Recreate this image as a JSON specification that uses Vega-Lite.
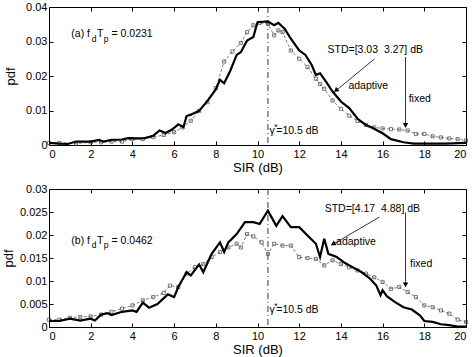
{
  "$schema": "https://vega.github.io/schema/vega-lite/v6.json",
  "background": "white",
  "padding": {"left": 1, "top": 0, "right": 8, "bottom": 0},
  "config": {
    "font": "Liberation Sans",
    "view": {"stroke": "black", "strokeWidth": 1},
    "axis": {"grid": false, "domain": false, "tickColor": "black", "tickSize": -4, "labelFont": "Liberation Sans", "labelFontSize": 11, "labelColor": "black", "titleFont": "Liberation Sans", "titleFontSize": 13, "titleFontWeight": "normal", "titleColor": "black", "labelPadding": 3, "format": "~g"},
    "text": {"font": "Liberation Sans", "fontSize": 10.5, "color": "black"}
  },
  "datasets": {
    "a_adaptive": [
      {"x":0,"y":0.0006},{"x":0.5,"y":0.0004},{"x":0.9,"y":0.0003},{"x":1.3,"y":0.001},{"x":2,"y":0.001},{"x":2.4,"y":0.0015},{"x":2.6,"y":0.001},{"x":3,"y":0.0015},{"x":3.5,"y":0.0016},{"x":3.8,"y":0.002},{"x":4.2,"y":0.0019},{"x":4.6,"y":0.002},{"x":5,"y":0.0027},{"x":5.3,"y":0.0042},{"x":5.6,"y":0.0035},{"x":5.9,"y":0.0045},{"x":6.2,"y":0.006},{"x":6.45,"y":0.0052},{"x":6.6,"y":0.0084},{"x":6.8,"y":0.0088},{"x":7.2,"y":0.0099},{"x":7.6,"y":0.0128},{"x":8,"y":0.0161},{"x":8.2,"y":0.0189},{"x":8.4,"y":0.0179},{"x":8.7,"y":0.0216},{"x":9,"y":0.0261},{"x":9.2,"y":0.0269},{"x":9.5,"y":0.0303},{"x":9.8,"y":0.0313},{"x":10,"y":0.0356},{"x":10.5,"y":0.0358},{"x":10.8,"y":0.0347},{"x":11,"y":0.0354},{"x":11.3,"y":0.0337},{"x":11.6,"y":0.0308},{"x":12,"y":0.0274},{"x":12.3,"y":0.0261},{"x":12.6,"y":0.0232},{"x":12.8,"y":0.0203},{"x":13,"y":0.0208},{"x":13.3,"y":0.0182},{"x":13.6,"y":0.0155},{"x":14,"y":0.0126},{"x":14.4,"y":0.0107},{"x":14.8,"y":0.0076},{"x":15.2,"y":0.0058},{"x":15.5,"y":0.005},{"x":16,"y":0.0034},{"x":16.4,"y":0.0017},{"x":17,"y":0.0008},{"x":17.5,"y":0.0004},{"x":18,"y":0.0004},{"x":19,"y":0.0004},{"x":20,"y":0.0006}
    ],
    "a_fixed": [
      {"x":0,"y":0.0006},{"x":0.5,"y":0.0006},{"x":1.3,"y":0.0004},{"x":2,"y":0.0008},{"x":2.5,"y":0.0008},{"x":3,"y":0.001},{"x":3.5,"y":0.001},{"x":4,"y":0.0017},{"x":4.5,"y":0.0017},{"x":5,"y":0.0023},{"x":5.5,"y":0.0029},{"x":6,"y":0.0037},{"x":6.4,"y":0.0051},{"x":6.8,"y":0.007},{"x":7.2,"y":0.0099},{"x":7.6,"y":0.0124},{"x":8,"y":0.0165},{"x":8.4,"y":0.0242},{"x":8.8,"y":0.0271},{"x":9.2,"y":0.0296},{"x":9.5,"y":0.0327},{"x":9.8,"y":0.0347},{"x":10.1,"y":0.0354},{"x":10.5,"y":0.0351},{"x":10.8,"y":0.0318},{"x":11,"y":0.0332},{"x":11.2,"y":0.0327},{"x":11.6,"y":0.0274},{"x":12,"y":0.025},{"x":12.4,"y":0.0226},{"x":12.8,"y":0.0192},{"x":13,"y":0.0177},{"x":13.2,"y":0.0163},{"x":13.6,"y":0.0129},{"x":14,"y":0.0105},{"x":14.4,"y":0.0085},{"x":14.8,"y":0.007},{"x":15.2,"y":0.0058},{"x":15.6,"y":0.0051},{"x":16,"y":0.0048},{"x":16.4,"y":0.0046},{"x":16.8,"y":0.0045},{"x":17.2,"y":0.0042},{"x":17.6,"y":0.0032},{"x":18,"y":0.0032},{"x":18.4,"y":0.0025},{"x":18.8,"y":0.0022},{"x":19.2,"y":0.0019},{"x":19.6,"y":0.0017},{"x":20,"y":0.0013}
    ],
    "b_adaptive": [
      {"x":0,"y":0.0013},{"x":0.5,"y":0.0013},{"x":1,"y":0.0018},{"x":1.5,"y":0.0014},{"x":2,"y":0.0018},{"x":2.2,"y":0.0014},{"x":2.5,"y":0.0027},{"x":2.8,"y":0.003},{"x":3,"y":0.0026},{"x":3.5,"y":0.0033},{"x":4,"y":0.0036},{"x":4.2,"y":0.0033},{"x":4.5,"y":0.0053},{"x":4.8,"y":0.0042},{"x":5.2,"y":0.005},{"x":5.7,"y":0.0071},{"x":6,"y":0.0065},{"x":6.2,"y":0.0087},{"x":6.6,"y":0.0119},{"x":6.8,"y":0.0112},{"x":7.2,"y":0.0136},{"x":7.4,"y":0.0119},{"x":7.8,"y":0.0159},{"x":8.2,"y":0.0184},{"x":8.4,"y":0.0163},{"x":8.6,"y":0.0184},{"x":9,"y":0.0202},{"x":9.4,"y":0.0228},{"x":9.8,"y":0.0228},{"x":10.1,"y":0.0224},{"x":10.5,"y":0.0253},{"x":10.9,"y":0.022},{"x":11.2,"y":0.0241},{"x":11.6,"y":0.0217},{"x":12,"y":0.0217},{"x":12.4,"y":0.0199},{"x":12.8,"y":0.0181},{"x":13,"y":0.0152},{"x":13.2,"y":0.0192},{"x":13.4,"y":0.0159},{"x":13.8,"y":0.0152},{"x":14.2,"y":0.0139},{"x":14.6,"y":0.0129},{"x":15,"y":0.0119},{"x":15.4,"y":0.0105},{"x":15.7,"y":0.009},{"x":15.9,"y":0.0069},{"x":16,"y":0.008},{"x":16.2,"y":0.0067},{"x":16.6,"y":0.0054},{"x":17,"y":0.0043},{"x":17.4,"y":0.0038},{"x":17.8,"y":0.0025},{"x":18,"y":0.0013},{"x":18.4,"y":0.0011},{"x":18.8,"y":0.0006},{"x":19.2,"y":0.0004},{"x":19.6,"y":0.0001},{"x":20,"y":0.0001}
    ],
    "b_fixed": [
      {"x":0,"y":0.0016},{"x":0.5,"y":0.0016},{"x":1,"y":0.002},{"x":1.5,"y":0.0022},{"x":2,"y":0.0023},{"x":2.5,"y":0.0027},{"x":3,"y":0.0033},{"x":3.5,"y":0.004},{"x":4,"y":0.0047},{"x":4.5,"y":0.0058},{"x":5,"y":0.0065},{"x":5.5,"y":0.0074},{"x":5.8,"y":0.009},{"x":6.2,"y":0.0087},{"x":6.6,"y":0.0116},{"x":7,"y":0.013},{"x":7.4,"y":0.0137},{"x":7.8,"y":0.0152},{"x":8.2,"y":0.0163},{"x":8.6,"y":0.0173},{"x":9,"y":0.0181},{"x":9.2,"y":0.0173},{"x":9.5,"y":0.0202},{"x":9.8,"y":0.0197},{"x":10.2,"y":0.0184},{"x":10.5,"y":0.0159},{"x":10.8,"y":0.0181},{"x":11.2,"y":0.0177},{"x":11.6,"y":0.0177},{"x":12,"y":0.0152},{"x":12.4,"y":0.015},{"x":12.8,"y":0.0148},{"x":13.2,"y":0.0134},{"x":13.6,"y":0.0145},{"x":14,"y":0.0137},{"x":14.4,"y":0.013},{"x":14.8,"y":0.0123},{"x":15.2,"y":0.0116},{"x":15.6,"y":0.0108},{"x":16,"y":0.0098},{"x":16.4,"y":0.0083},{"x":16.8,"y":0.0087},{"x":17.2,"y":0.0076},{"x":17.6,"y":0.0065},{"x":18,"y":0.0047},{"x":18.4,"y":0.0043},{"x":18.8,"y":0.0036},{"x":19.2,"y":0.0029},{"x":19.6,"y":0.0016},{"x":20,"y":0.0011}
    ],
    "a_text": [
      {"x":1.07,"y":0.0321,"t":"(a) f"},{"x":2.3,"y":0.0321,"t":"T"},{"x":3.0,"y":0.0321,"t":"= 0.0231"},
      {"x":13.36,"y":0.0276,"t":"STD=[3.03\u00a0 3.27] dB"},{"x":14.36,"y":0.017,"t":"adaptive"},{"x":17.25,"y":0.0132,"t":"fixed"},
      {"x":10.57,"y":0.004,"t":"γ"},{"x":10.9,"y":0.004,"t":"=10.5 dB"}
    ],
    "a_sub": [
      {"x":2.05,"y":0.0308,"t":"d"},{"x":2.62,"y":0.0308,"t":"p"},{"x":10.8,"y":0.0053,"t":"*"}
    ],
    "b_text": [
      {"x":1.07,"y":0.0188,"t":"(b) f"},{"x":2.3,"y":0.0188,"t":"T"},{"x":3.0,"y":0.0188,"t":"= 0.0462"},
      {"x":13.22,"y":0.0256,"t":"STD=[4.17\u00a0 4.88] dB"},{"x":13.77,"y":0.0184,"t":"adaptive"},{"x":17.32,"y":0.0136,"t":"fixed"},
      {"x":10.57,"y":0.0036,"t":"γ"},{"x":10.9,"y":0.0036,"t":"=10.5 dB"}
    ],
    "b_sub": [
      {"x":2.05,"y":0.0179,"t":"d"},{"x":2.62,"y":0.0179,"t":"p"},{"x":10.8,"y":0.0046,"t":"*"}
    ],
    "a_arrows": [
      {"x":15.6,"y":0.0249,"x2":13.69,"y2":0.0154,"kind":"adaptive"},
      {"x":17.1,"y":0.0255,"x2":17.1,"y2":0.0051,"kind":"fixed"}
    ],
    "b_arrows": [
      {"x":15.85,"y":0.0239,"x2":13.55,"y2":0.0178,"kind":"adaptive"},
      {"x":17.1,"y":0.0249,"x2":17.1,"y2":0.0087,"kind":"fixed"}
    ],
    "marker": [{"x":10.5}]
  },
  "vconcat": [
    {
      "width": 417, "height": 138,
      "resolve": {"axis": {"x": "independent", "y": "independent"}},
      "layer": [
        {"data": {"name": "marker"}, "mark": {"type": "rule", "color": "black", "strokeWidth": 0.8, "strokeDash": [6, 3, 1, 3]},
         "encoding": {"x": {"field": "x", "type": "quantitative", "scale": {"domain": [0, 20]}, "axis": {"orient": "top", "labels": false, "title": null, "values": [0,2,4,6,8,10,12,14,16,18,20]}}}},
        {"data": {"name": "a_fixed"}, "mark": {"type": "line", "color": "#444", "strokeWidth": 0.7, "strokeDash": [3, 2], "point": {"shape": "square", "filled": false, "size": 10, "stroke": "#444", "strokeWidth": 0.7}},
         "encoding": {"x": {"field": "x", "type": "quantitative", "axis": null},
                      "y": {"field": "y", "type": "quantitative", "scale": {"domain": [0, 0.04]}, "axis": {"orient": "right", "labels": false, "title": null, "values": [0,0.01,0.02,0.03,0.04]}}}},
        {"data": {"name": "a_adaptive"}, "mark": {"type": "line", "color": "black", "strokeWidth": 2.2},
         "encoding": {"x": {"field": "x", "type": "quantitative", "axis": {"title": "SIR (dB)", "values": [0,2,4,6,8,10,12,14,16,18,20], "labelPadding": 7, "titlePadding": 2}},
                      "y": {"field": "y", "type": "quantitative", "axis": {"title": "pdf", "values": [0,0.01,0.02,0.03,0.04], "labelPadding": 6, "titlePadding": 8}}}},
        {"data": {"name": "a_arrows"}, "mark": {"type": "rule", "color": "black", "strokeWidth": 0.8},
         "encoding": {"x": {"field": "x", "type": "quantitative", "axis": null}, "y": {"field": "y", "type": "quantitative", "axis": null}, "x2": {"field": "x2"}, "y2": {"field": "y2"}}},
        {"data": {"name": "a_arrows"}, "transform": [{"filter": "datum.kind == 'fixed'"}], "mark": {"type": "point", "shape": "triangle-down", "filled": true, "color": "black", "size": 30, "opacity": 1, "yOffset": -2},
         "encoding": {"x": {"field": "x2", "type": "quantitative", "axis": null}, "y": {"field": "y2", "type": "quantitative", "axis": null}}},
        {"data": {"name": "a_arrows"}, "transform": [{"filter": "datum.kind == 'adaptive'"}], "mark": {"type": "point", "shape": "triangle-down", "filled": true, "color": "black", "size": 30, "opacity": 1, "angle": 50, "xOffset": 1.5, "yOffset": -1.5},
         "encoding": {"x": {"field": "x2", "type": "quantitative", "axis": null}, "y": {"field": "y2", "type": "quantitative", "axis": null}}},
        {"data": {"name": "a_text"}, "mark": {"type": "text", "align": "left", "baseline": "middle"},
         "encoding": {"x": {"field": "x", "type": "quantitative", "axis": null}, "y": {"field": "y", "type": "quantitative", "axis": null}, "text": {"field": "t"}}},
        {"data": {"name": "a_sub"}, "mark": {"type": "text", "align": "left", "baseline": "middle", "fontSize": 8.5},
         "encoding": {"x": {"field": "x", "type": "quantitative", "axis": null}, "y": {"field": "y", "type": "quantitative", "axis": null}, "text": {"field": "t"}}}
      ]
    },
    {
      "width": 417, "height": 138,
      "resolve": {"axis": {"x": "independent", "y": "independent"}},
      "layer": [
        {"data": {"name": "marker"}, "mark": {"type": "rule", "color": "black", "strokeWidth": 0.8, "strokeDash": [6, 3, 1, 3]},
         "encoding": {"x": {"field": "x", "type": "quantitative", "scale": {"domain": [0, 20]}, "axis": {"orient": "top", "labels": false, "title": null, "values": [0,2,4,6,8,10,12,14,16,18,20]}}}},
        {"data": {"name": "b_fixed"}, "mark": {"type": "line", "color": "#444", "strokeWidth": 0.7, "strokeDash": [3, 2], "point": {"shape": "square", "filled": false, "size": 10, "stroke": "#444", "strokeWidth": 0.7}},
         "encoding": {"x": {"field": "x", "type": "quantitative", "axis": null},
                      "y": {"field": "y", "type": "quantitative", "scale": {"domain": [0, 0.03]}, "axis": {"orient": "right", "labels": false, "title": null, "values": [0,0.005,0.01,0.015,0.02,0.025,0.03]}}}},
        {"data": {"name": "b_adaptive"}, "mark": {"type": "line", "color": "black", "strokeWidth": 2.2},
         "encoding": {"x": {"field": "x", "type": "quantitative", "axis": {"title": "SIR (dB)", "values": [0,2,4,6,8,10,12,14,16,18,20], "labelPadding": 7, "titlePadding": 2}},
                      "y": {"field": "y", "type": "quantitative", "axis": {"title": "pdf", "values": [0,0.005,0.01,0.015,0.02,0.025,0.03], "labelPadding": 6, "titlePadding": 4}}}},
        {"data": {"name": "b_arrows"}, "mark": {"type": "rule", "color": "black", "strokeWidth": 0.8},
         "encoding": {"x": {"field": "x", "type": "quantitative", "axis": null}, "y": {"field": "y", "type": "quantitative", "axis": null}, "x2": {"field": "x2"}, "y2": {"field": "y2"}}},
        {"data": {"name": "b_arrows"}, "transform": [{"filter": "datum.kind == 'fixed'"}], "mark": {"type": "point", "shape": "triangle-down", "filled": true, "color": "black", "size": 30, "opacity": 1, "yOffset": -2},
         "encoding": {"x": {"field": "x2", "type": "quantitative", "axis": null}, "y": {"field": "y2", "type": "quantitative", "axis": null}}},
        {"data": {"name": "b_arrows"}, "transform": [{"filter": "datum.kind == 'adaptive'"}], "mark": {"type": "point", "shape": "triangle-down", "filled": true, "color": "black", "size": 30, "opacity": 1, "angle": 60, "xOffset": 1.5, "yOffset": -1},
         "encoding": {"x": {"field": "x2", "type": "quantitative", "axis": null}, "y": {"field": "y2", "type": "quantitative", "axis": null}}},
        {"data": {"name": "b_text"}, "mark": {"type": "text", "align": "left", "baseline": "middle"},
         "encoding": {"x": {"field": "x", "type": "quantitative", "axis": null}, "y": {"field": "y", "type": "quantitative", "axis": null}, "text": {"field": "t"}}},
        {"data": {"name": "b_sub"}, "mark": {"type": "text", "align": "left", "baseline": "middle", "fontSize": 8.5},
         "encoding": {"x": {"field": "x", "type": "quantitative", "axis": null}, "y": {"field": "y", "type": "quantitative", "axis": null}, "text": {"field": "t"}}}
      ]
    }
  ],
  "spacing": 44,
  "bounds": "flush"
}
